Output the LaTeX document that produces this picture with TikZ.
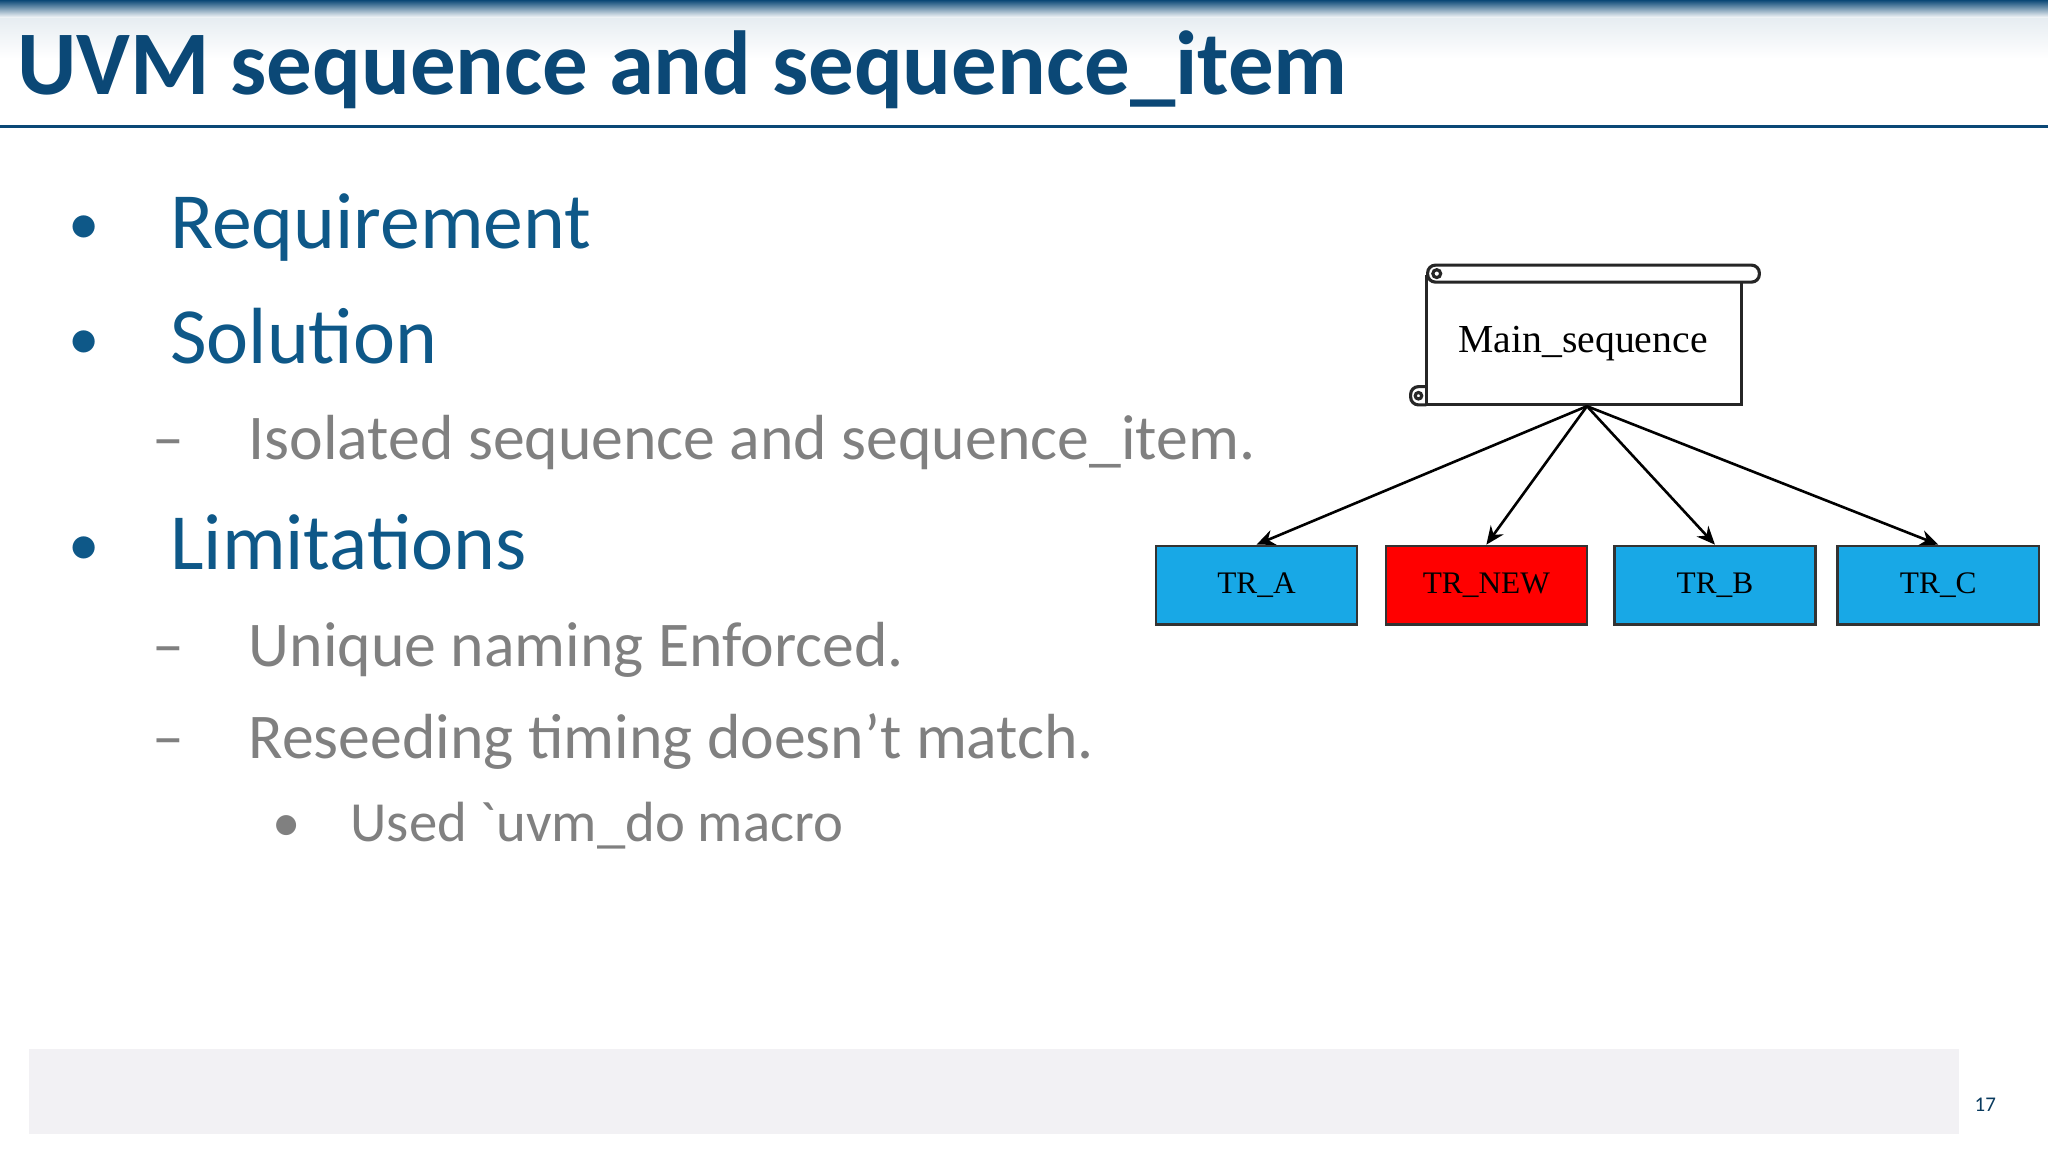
\documentclass[tikz,border=0pt]{standalone}
\usepackage{fontspec}
\setmainfont{Carlito}
\newfontfamily\serif{Liberation Serif}
\usetikzlibrary{arrows.meta}
\definecolor{titleblue}{RGB}{11,72,118}
\definecolor{bodyblue}{RGB}{14,88,136}
\definecolor{bodygray}{RGB}{128,128,128}
\definecolor{boxblue}{RGB}{24,168,230}
\definecolor{footgray}{RGB}{242,241,244}
\tikzset{
  trbox/.style={draw=black!80, line width=1pt, minimum width=77pt, minimum height=30pt, inner sep=0pt, font=\serif\fontsize{12}{14}\selectfont},
  conn/.style={line width=1pt, -{Stealth[length=7pt,width=6pt]}},
  scrollline/.style={line width=1.2pt, black!85},
  lvlone/.style={anchor=base west, text=bodyblue, font=\fontsize{30.5}{36}\selectfont, inner sep=0pt},
  dotone/.style={anchor=base west, text=bodyblue, font=\fontsize{24}{36}\selectfont, inner sep=0pt},
  lvltwo/.style={anchor=base west, text=bodygray, font=\fontsize{24.4}{28}\selectfont, inner sep=0pt},
  lvlthree/.style={anchor=base west, text=bodygray, font=\fontsize{21.7}{24}\selectfont, inner sep=0pt}
}
\begin{document}
\begin{tikzpicture}[x=0.5pt,y=-0.5pt]
\useasboundingbox (0,0) rectangle (1568,882);
\fill[white] (0,0) rectangle (1568,882);
\shade[top color=titleblue, bottom color=white] (0,0) rectangle (1568,14);
\shade[top color=white!90!titleblue, bottom color=white] (0,14) rectangle (1568,45);
\node[anchor=base west, text=titleblue, font=\bfseries\fontsize{34.8}{40}\selectfont, inner sep=0pt] (title) at (13,72) {UVM sequence and sequence\_item};
\draw[titleblue, line width=1.2pt] (0,97) -- (1568,97);
% bullets
\node[dotone] (b1d) at (52,187) {•};
\node[lvlone] (b1) at (130,190) {Requirement};
\node[dotone] (b2d) at (52,275) {•};
\node[lvlone] (b2) at (130,278) {Solution};
\node[lvltwo] (s1d) at (116,352) {–};
\node[lvltwo] (s1) at (190,352) {Isolated sequence and sequence\_item.};
\node[dotone] (b3d) at (52,433) {•};
\node[lvlone] (b3) at (130,436) {Limitations};
\node[lvltwo] (s2d) at (116,510) {–};
\node[lvltwo] (s2) at (190,510) {Unique naming Enforced.};
\node[lvltwo] (s3d) at (116,581) {–};
\node[lvltwo] (s3) at (190,581) {Reseeding timing doesn’t match.};
\node[lvlthree] (t1d) at (208,644) {•};
\node[lvlthree] (t1) at (268,644) {Used \textasciigrave uvm\_do macro};
% footer
\fill[footgray] (22,803) rectangle (1500,868);
\node[font=\fontsize{8}{10}\selectfont, text=titleblue!80!black] (pg) at (1520,846) {17};
% scroll
\draw[scrollline, fill=white] (1092,212) rectangle (1333,310);
\draw[scrollline, fill=white, rounded corners=3pt] (1093,203) rectangle (1347,216);
\draw[scrollline] (1100,209.5) circle (3);
\draw[scrollline, rounded corners=3pt] (1092,296) -- (1080,296) -- (1080,310) -- (1092,310);
\draw[scrollline] (1086,303) circle (2.5);
\node[font=\serif\fontsize{15.2}{17}\selectfont, inner sep=0pt] (main) at (1212,263) {Main\_sequence};
\coordinate (mb) at (1215,311);
\node[trbox, fill=boxblue] (tra) at (962,448) {TR\_A};
\node[trbox, fill=red] (trn) at (1138,448) {TR\_NEW};
\node[trbox, fill=boxblue] (trb) at (1313,448) {TR\_B};
\node[trbox, fill=boxblue] (trc) at (1484,448) {TR\_C};
\foreach \t in {tra,trn,trb,trc} \draw[conn] (mb) -- (\t.north);
\end{tikzpicture}
\end{document}
